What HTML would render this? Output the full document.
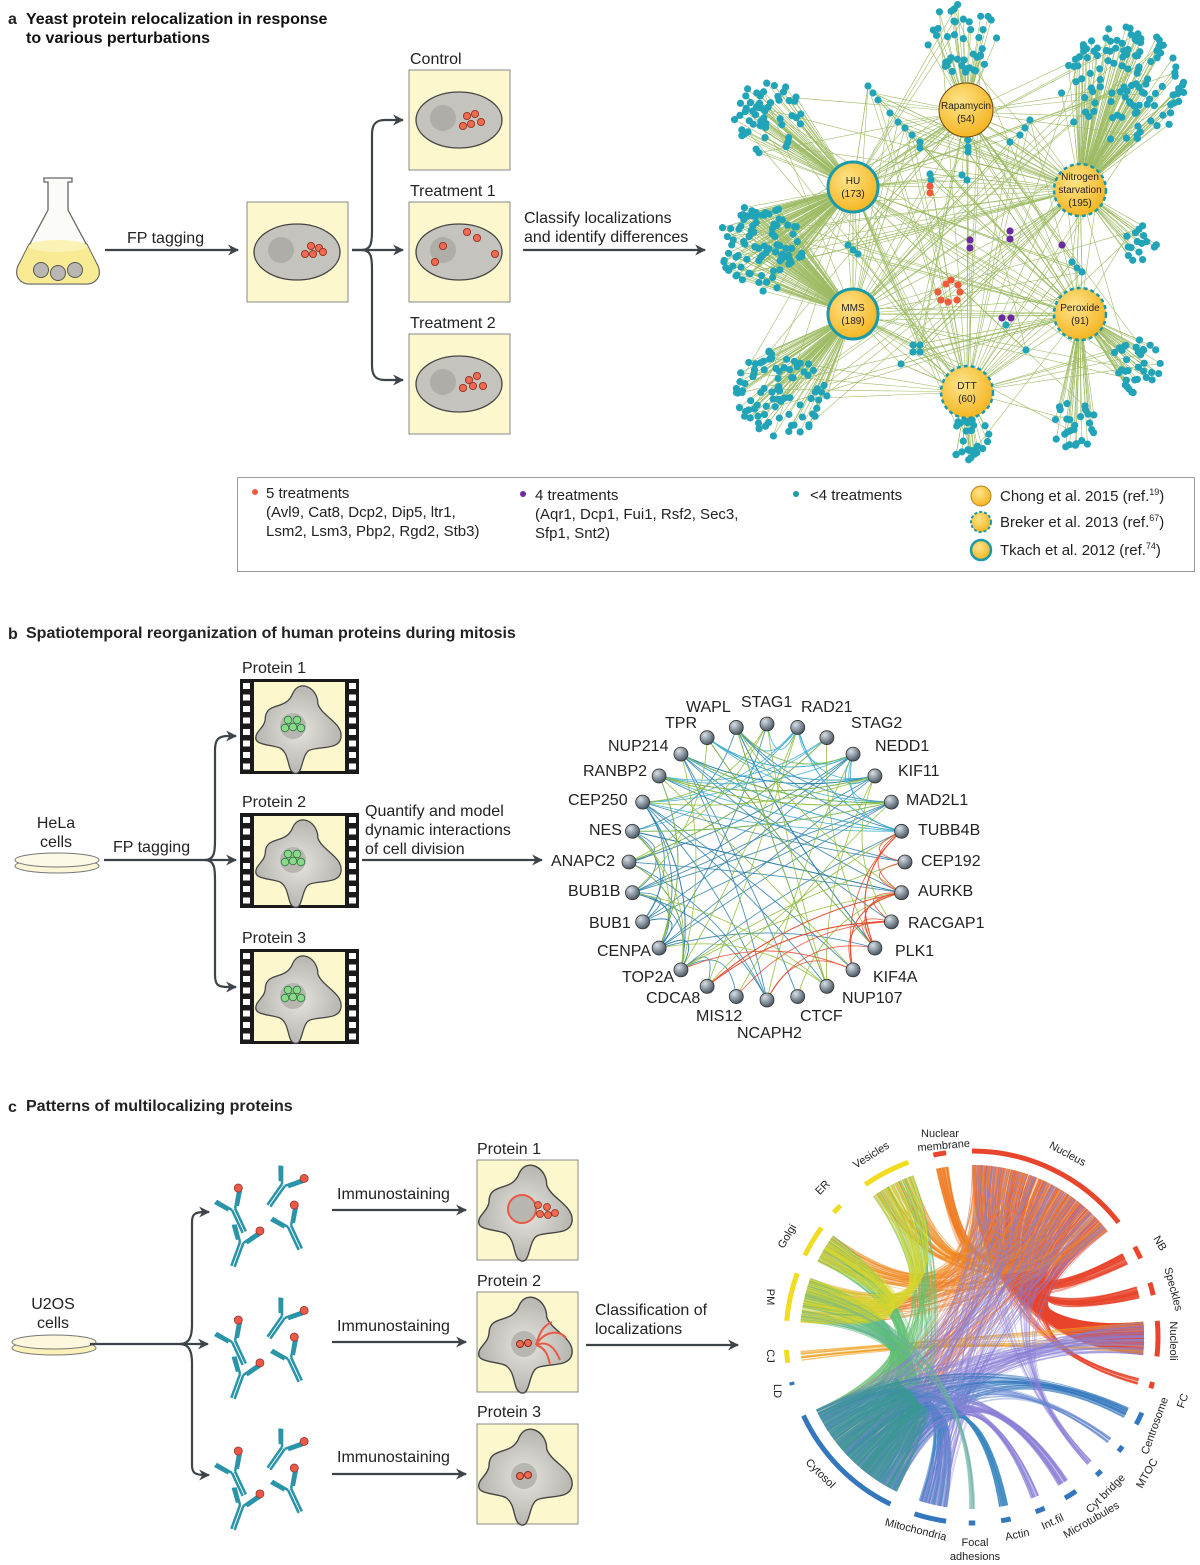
<!DOCTYPE html>
<html><head><meta charset="utf-8"><style>
html,body{margin:0;padding:0;background:#fff}
svg{display:block}
text{font-family:"Liberation Sans",sans-serif;fill:#222}
.t{font-size:16px}
.h{font-size:16px;font-weight:bold}
.s{font-size:10px}
.l{font-size:11px}
</style></head><body>
<svg id="s" width="1200" height="1565" viewBox="0 0 1200 1565" xmlns="http://www.w3.org/2000/svg">
<defs>
<marker id="ar" viewBox="0 0 10 10" refX="9" refY="5" markerWidth="5" markerHeight="5" orient="auto"><path d="M0,0 L10,5 L0,10 L3,5 Z" fill="#3c4449"/></marker>
<radialGradient id="hub" cx="0.4" cy="0.35" r="0.7"><stop offset="0" stop-color="#fde48a"/><stop offset="1" stop-color="#f5b21c"/></radialGradient>
<radialGradient id="nd" cx="0.35" cy="0.3" r="0.7"><stop offset="0" stop-color="#d8e0e6"/><stop offset="1" stop-color="#4c5a66"/></radialGradient>
<radialGradient id="cellg" cx="0.5" cy="0.5" r="0.6"><stop offset="0" stop-color="#e6e4de"/><stop offset="1" stop-color="#aeaca6"/></radialGradient>
<path id="blob" d="M-32,-8 C-30,-22 -12,-14 -6,-30 C0,-44 18,-36 18,-20 C22,-8 42,-2 40,12 C38,24 20,20 10,24 C2,28 4,48 -4,46 C-12,44 -8,28 -18,22 C-28,18 -46,20 -40,8 C-36,2 -32,0 -32,-8 Z" fill="url(#cellg)" stroke="#444" stroke-width="1.2"/>
<g id="ab"><path d="M0,0 L0,22 M3,0 L3,22 M0,0 L-9,-13 M-3,-1 L-11,-12 M3,0 L12,-13 M6,-1 L14,-12" stroke="#2a94a8" stroke-width="2.2" fill="none"/><circle cx="13" cy="-15" r="3.5" fill="#e85a45" stroke="#933" stroke-width=".7"/></g>
</defs>

<!-- PANEL A -->
<text x="8" y="24" class="h">a</text>
<text x="26" y="24" class="h" style="font-size:16px;fill:#111">Yeast protein relocalization in response</text>
<text x="26" y="43" class="h" style="font-size:16px;fill:#111">to various perturbations</text>
<g>
<path d="M44,178 L72,178 L72,182 L68,182 L68,210 L98,266 C102,276 96,284 86,284 L30,284 C20,284 14,276 18,266 L48,210 L48,182 L44,182 Z" fill="#fbfbf8" stroke="#666" stroke-width="1.3"/>
<path d="M29,244 L87,244 L98,266 C102,276 96,284 86,284 L30,284 C20,284 14,276 18,266 Z" fill="#f8eb94" stroke="#666" stroke-width="1"/>
<ellipse cx="58" cy="246" rx="29" ry="6" fill="#fbf2b5"/>
<circle cx="41" cy="270" r="7.5" fill="#b9b7b1" stroke="#555"/><circle cx="58" cy="273" r="7.5" fill="#b9b7b1" stroke="#555"/><circle cx="75" cy="270" r="7.5" fill="#b9b7b1" stroke="#555"/>
</g>
<line x1="105" y1="250" x2="238" y2="250" stroke="#3c4449" stroke-width="2.2" marker-end="url(#ar)"/>
<text x="127" y="243" class="t">FP tagging</text>
<g id="cellsA"></g>
<path d="M352,250 H362 C372,250 372,240 372,230 V135 C372,125 375,120 385,120 H403" fill="none" stroke="#3c4449" stroke-width="2.2" marker-end="url(#ar)"/>
<path d="M352,250 H403" stroke="#3c4449" stroke-width="2.2" marker-end="url(#ar)"/>
<path d="M362,250 C372,250 372,260 372,270 V365 C372,375 375,380 385,380 H403" fill="none" stroke="#3c4449" stroke-width="2.2" marker-end="url(#ar)"/>
<text x="410" y="64" class="t">Control</text>
<text x="410" y="196" class="t">Treatment 1</text>
<text x="410" y="328" class="t">Treatment 2</text>
<line x1="523" y1="250" x2="705" y2="250" stroke="#3c4449" stroke-width="2.2" marker-end="url(#ar)"/>
<text x="524" y="223" class="t">Classify localizations</text>
<text x="524" y="242" class="t">and identify differences</text>
<g id="netA"></g>
<g font-size="10">
<text x="966" y="109" text-anchor="middle" class="s">Rapamycin</text><text x="966" y="122" text-anchor="middle" class="s">(54)</text>
<text x="853" y="184" text-anchor="middle" class="s">HU</text><text x="853" y="197" text-anchor="middle" class="s">(173)</text>
<text x="1080" y="180" text-anchor="middle" class="s">Nitrogen</text><text x="1080" y="193" text-anchor="middle" class="s">starvation</text><text x="1080" y="206" text-anchor="middle" class="s">(195)</text>
<text x="853" y="311" text-anchor="middle" class="s">MMS</text><text x="853" y="324" text-anchor="middle" class="s">(189)</text>
<text x="1080" y="311" text-anchor="middle" class="s">Peroxide</text><text x="1080" y="324" text-anchor="middle" class="s">(91)</text>
<text x="967" y="389" text-anchor="middle" class="s">DTT</text><text x="967" y="402" text-anchor="middle" class="s">(60)</text>
</g>
<rect x="237.5" y="477.5" width="957" height="94" fill="#fff" stroke="#999" stroke-width="1"/>
<circle cx="255" cy="492" r="3" fill="#ef5a3a"/>
<text x="266" y="498" class="t" style="font-size:15px">5 treatments</text>
<text x="266" y="517" class="t" style="font-size:15px">(Avl9, Cat8, Dcp2, Dip5, ltr1,</text>
<text x="266" y="536" class="t" style="font-size:15px">Lsm2, Lsm3, Pbp2, Rgd2, Stb3)</text>
<circle cx="523" cy="494" r="3" fill="#6a2aa0"/>
<text x="535" y="500" class="t" style="font-size:15px">4 treatments</text>
<text x="535" y="519" class="t" style="font-size:15px">(Aqr1, Dcp1, Fui1, Rsf2, Sec3,</text>
<text x="535" y="538" class="t" style="font-size:15px">Sfp1, Snt2)</text>
<circle cx="796" cy="494" r="3" fill="#1a9aa8"/>
<text x="810" y="500" class="t" style="font-size:15px">&lt;4 treatments</text>
<circle cx="981" cy="496" r="10" fill="url(#hub)" stroke="#b5801a" stroke-width="1"/>
<circle cx="981" cy="522" r="10" fill="url(#hub)" stroke="#1a9aa8" stroke-width="2" stroke-dasharray="3 2"/>
<circle cx="981" cy="550" r="10" fill="url(#hub)" stroke="#1a9aa8" stroke-width="2.5"/>
<text x="1000" y="501" class="t" style="font-size:15px">Chong et al. 2015 (ref.<tspan font-size="9" dy="-6">19</tspan><tspan dy="6">)</tspan></text>
<text x="1000" y="527" class="t" style="font-size:15px">Breker et al. 2013 (ref.<tspan font-size="9" dy="-6">67</tspan><tspan dy="6">)</tspan></text>
<text x="1000" y="555" class="t" style="font-size:15px">Tkach et al. 2012 (ref.<tspan font-size="9" dy="-6">74</tspan><tspan dy="6">)</tspan></text>

<!-- PANEL B -->
<text x="8" y="639" class="h">b</text>
<text x="26" y="638" class="h" style="font-size:16px">Spatiotemporal reorganization of human proteins during mitosis</text>
<ellipse cx="57" cy="866" rx="42" ry="7" fill="#fbf6d8" stroke="#777"/>
<ellipse cx="57" cy="860" rx="42" ry="7" fill="#fcf9e6" stroke="#777"/>
<text x="56" y="828" class="t" text-anchor="middle">HeLa</text>
<text x="56" y="847" class="t" text-anchor="middle">cells</text>
<line x1="104" y1="860" x2="236" y2="860" stroke="#3c4449" stroke-width="2.2" marker-end="url(#ar)"/>
<text x="113" y="852" class="t">FP tagging</text>
<path d="M205,860 C215,860 215,850 215,840 V750 C215,740 218,736 228,736 H236" fill="none" stroke="#3c4449" stroke-width="2.2" marker-end="url(#ar)"/>
<path d="M205,860 C215,860 215,870 215,880 V975 C215,985 218,987 228,987 H236" fill="none" stroke="#3c4449" stroke-width="2.2" marker-end="url(#ar)"/>
<text x="242" y="673" class="t">Protein 1</text>
<text x="242" y="807" class="t">Protein 2</text>
<text x="242" y="943" class="t">Protein 3</text>
<g id="films"></g>
<line x1="362" y1="860" x2="542" y2="860" stroke="#3c4449" stroke-width="2.2" marker-end="url(#ar)"/>
<text x="365" y="816" class="t">Quantify and model</text>
<text x="365" y="835" class="t">dynamic interactions</text>
<text x="365" y="854" class="t">of cell division</text>
<g id="netB"></g>
<g class="t" font-size="16">
<text x="686" y="712" class="t">WAPL</text><text x="741" y="707" class="t">STAG1</text><text x="801" y="712" class="t">RAD21</text>
<text x="665" y="728" class="t">TPR</text><text x="851" y="728" class="t">STAG2</text>
<text x="608" y="751" class="t">NUP214</text><text x="875" y="751" class="t">NEDD1</text>
<text x="583" y="776" class="t">RANBP2</text><text x="898" y="776" class="t">KIF11</text>
<text x="568" y="805" class="t">CEP250</text><text x="906" y="805" class="t">MAD2L1</text>
<text x="589" y="835" class="t">NES</text><text x="918" y="835" class="t">TUBB4B</text>
<text x="551" y="866" class="t">ANAPC2</text><text x="921" y="866" class="t">CEP192</text>
<text x="568" y="896" class="t">BUB1B</text><text x="918" y="896" class="t">AURKB</text>
<text x="589" y="928" class="t">BUB1</text><text x="908" y="928" class="t">RACGAP1</text>
<text x="597" y="956" class="t">CENPA</text><text x="895" y="956" class="t">PLK1</text>
<text x="622" y="982" class="t">TOP2A</text><text x="873" y="982" class="t">KIF4A</text>
<text x="646" y="1003" class="t">CDCA8</text><text x="842" y="1003" class="t">NUP107</text>
<text x="696" y="1021" class="t">MIS12</text><text x="800" y="1021" class="t">CTCF</text>
<text x="737" y="1038" class="t">NCAPH2</text>
</g>

<!-- PANEL C -->
<text x="8" y="1112" class="h">c</text>
<text x="26" y="1111" class="h" style="font-size:16px">Patterns of multilocalizing proteins</text>
<ellipse cx="54" cy="1348" rx="42" ry="7" fill="#fbf0b8" stroke="#777"/>
<ellipse cx="54" cy="1342" rx="42" ry="7" fill="#fcf7dd" stroke="#777"/>
<text x="53" y="1309" class="t" text-anchor="middle">U2OS</text>
<text x="53" y="1328" class="t" text-anchor="middle">cells</text>
<line x1="90" y1="1344" x2="208" y2="1344" stroke="#3c4449" stroke-width="2.2" marker-end="url(#ar)"/>
<path d="M180,1344 C190,1344 192,1335 192,1325 V1222 C192,1214 195,1212 205,1212 H209" fill="none" stroke="#3c4449" stroke-width="2.2" marker-end="url(#ar)"/>
<path d="M180,1344 C190,1344 192,1353 192,1363 V1465 C192,1473 195,1475 205,1475 H209" fill="none" stroke="#3c4449" stroke-width="2.2" marker-end="url(#ar)"/>
<g id="abs"></g>
<text x="337" y="1199" class="t">Immunostaining</text>
<text x="337" y="1331" class="t">Immunostaining</text>
<text x="337" y="1462" class="t">Immunostaining</text>
<line x1="332" y1="1210" x2="466" y2="1210" stroke="#3c4449" stroke-width="2.2" marker-end="url(#ar)"/>
<line x1="332" y1="1342" x2="466" y2="1342" stroke="#3c4449" stroke-width="2.2" marker-end="url(#ar)"/>
<line x1="332" y1="1474" x2="466" y2="1474" stroke="#3c4449" stroke-width="2.2" marker-end="url(#ar)"/>
<text x="477" y="1154" class="t">Protein 1</text>
<text x="477" y="1286" class="t">Protein 2</text>
<text x="477" y="1417" class="t">Protein 3</text>
<g id="cellsC"></g>
<line x1="586" y1="1345" x2="738" y2="1345" stroke="#3c4449" stroke-width="2.2" marker-end="url(#ar)"/>
<text x="595" y="1315" class="t">Classification of</text>
<text x="595" y="1334" class="t">localizations</text>
<g id="chord"></g>
<g font-size="11">
<text x="940" y="1137" text-anchor="middle" class="l">Nuclear</text>
<text x="944" y="1149" text-anchor="middle" class="l" transform="rotate(-5 944 1149)">membrane</text>
<text x="1066" y="1157" class="l" transform="rotate(28 1066 1157)" text-anchor="middle">Nucleus</text>
<text x="873" y="1158" class="l" transform="rotate(-32 873 1158)" text-anchor="middle">Vesicles</text>
<text x="825" y="1190" class="l" transform="rotate(-45 825 1190)" text-anchor="middle">ER</text>
<text x="790" y="1238" class="l" transform="rotate(-60 790 1238)" text-anchor="middle">Golgi</text>
<text x="767" y="1297" class="l" transform="rotate(90 767 1297)" text-anchor="middle">PM</text>
<text x="767" y="1356" class="l" transform="rotate(90 767 1356)" text-anchor="middle">CJ</text>
<text x="774" y="1391" class="l" transform="rotate(90 774 1391)" text-anchor="middle">LD</text>
<text x="818" y="1476" class="l" transform="rotate(45 818 1476)" text-anchor="middle">Cytosol</text>
<text x="915" y="1533" class="l" transform="rotate(14 915 1533)" text-anchor="middle">Mitochondria</text>
<text x="975" y="1546" class="l" text-anchor="middle">Focal</text>
<text x="975" y="1560" class="l" text-anchor="middle">adhesions</text>
<text x="1018" y="1538" class="l" transform="rotate(-12 1018 1538)" text-anchor="middle">Actin</text>
<text x="1054" y="1525" class="l" transform="rotate(-25 1054 1525)" text-anchor="middle">Int.fil</text>
<text x="1093" y="1523" class="l" transform="rotate(-30 1093 1523)" text-anchor="middle">Microtubules</text>
<text x="1108" y="1496" class="l" transform="rotate(-45 1108 1496)" text-anchor="middle">Cyt bridge</text>
<text x="1150" y="1475" class="l" transform="rotate(-60 1150 1475)" text-anchor="middle">MTOC</text>
<text x="1158" y="1427" class="l" transform="rotate(-70 1158 1427)" text-anchor="middle">Centrosome</text>
<text x="1186" y="1402" class="l" transform="rotate(-70 1186 1402)" text-anchor="middle">FC</text>
<text x="1170" y="1341" class="l" transform="rotate(90 1170 1341)" text-anchor="middle">Nucleoli</text>
<text x="1170" y="1290" class="l" transform="rotate(75 1170 1290)" text-anchor="middle">Speckles</text>
<text x="1157" y="1245" class="l" transform="rotate(60 1157 1245)" text-anchor="middle">NB</text>
</g>
</svg>
<script>
(function(){
const NS='http://www.w3.org/2000/svg';
function el(t,a,p){const e=document.createElementNS(NS,t);for(const k in a)e.setAttribute(k,a[k]);p.appendChild(e);return e;}
let seed=7;function r(){seed=(seed*16807)%2147483647;return seed/2147483647;}
const cA=document.getElementById('cellsA');
function ybox(x,y,dots){el('rect',{x:x,y:y,width:101,height:100,fill:'#fcf7cc',stroke:'#888'},cA);
 const cx=x+50,cy=y+50;el('ellipse',{cx:cx,cy:cy,rx:43,ry:28,fill:'#c5c3bd',stroke:'#444','stroke-width':1.3},cA);
 el('circle',{cx:cx-16,cy:cy-2,r:13,fill:'#afada7'},cA);
 dots.forEach(d=>el('circle',{cx:cx+d[0],cy:cy+d[1],r:3.6,fill:'#ee6a52',stroke:'#8a2a1a','stroke-width':.8},cA));}
ybox(247,202,[[14,-6],[22,-4],[8,2],[16,2],[26,0]]);
ybox(409,70,[[8,-4],[16,-6],[22,2],[12,4],[4,6]]);
ybox(409,202,[[8,-20],[18,-14],[-16,-6],[-24,10],[36,2]]);
ybox(409,334,[[10,-4],[18,-8],[24,2],[14,2],[4,4]]);
const nA=document.getElementById('netA');
const H={R:[966,112],HU:[853,187],N:[1080,190],M:[853,314],P:[1080,314],D:[967,392]};
const gL=el('g',{stroke:'#8db04a','stroke-width':.6,opacity:.85},nA);
const gD=el('g',{fill:'#22a4b8'},nA);
const cl=[[962,38,36,42,['R']],[1122,88,62,120,['N']],[768,118,36,52,['HU']],[760,248,44,95,['HU','M']],[782,392,46,85,['M']],[1138,242,20,16,['N']],[1136,366,27,34,['P']],[966,440,24,26,['D']],[1075,425,24,26,['P']]];
cl.forEach(c=>{for(let i=0;i<c[3];i++){let a=r()*6.283,d=Math.sqrt(r())*c[2];let x=c[0]+Math.cos(a)*d,y=c[1]+Math.sin(a)*d;
 c[4].forEach(h=>el('line',{x1:H[h][0],y1:H[h][1],x2:x,y2:y},gL));
 if(r()<.25){const hs=Object.keys(H);const h=hs[Math.floor(r()*6)];el('line',{x1:H[h][0],y1:H[h][1],x2:x,y2:y},gL);}
 el('circle',{cx:x,cy:y,r:3.6},gD);}});
const mid=[[868,86],[873,93],[878,100],[890,113],[898,122],[905,128],[912,135],[920,142],[1030,120],[1025,128],[1020,135],[1010,142],[968,140],[968,147],[968,152],[920,148],[930,174],[931,180],[962,175],[967,180],[848,245],[853,250],[858,254],[1072,262],[1077,268],[1082,272],[913,345],[920,345],[913,352],[920,352],[901,364],[1026,350],[1006,325]];
const hk=Object.keys(H);
for(let i=0;i<160;i++){const a=H[hk[Math.floor(r()*6)]],b=mid[Math.floor(r()*mid.length)];el('line',{x1:a[0],y1:a[1],x2:b[0],y2:b[1]},gL);}
for(let i=0;i<40;i++){const a=H[hk[Math.floor(r()*6)]],b=H[hk[Math.floor(r()*6)]];el('line',{x1:a[0],y1:a[1],x2:b[0]+r()*40-20,y2:b[1]+r()*40-20},gL);}
mid.forEach(m=>el('circle',{cx:m[0],cy:m[1],r:3.6},gD));
[[930,186],[930,193],[946,284],[951,280],[958,285],[960,292],[957,300],[948,302],[941,300],[938,292]].forEach(m=>el('circle',{cx:m[0],cy:m[1],r:3.6,fill:'#ef5a3a'},nA));
[[970,240],[970,248],[1010,231],[1010,239],[1062,245],[1002,318],[1011,318]].forEach(m=>el('circle',{cx:m[0],cy:m[1],r:3.6,fill:'#6a2aa0'},nA));
el('circle',{cx:966,cy:110,r:27,fill:'url(#hub)',stroke:'#6a4a10','stroke-width':1},nA);
el('circle',{cx:853,cy:187,r:25,fill:'url(#hub)',stroke:'#1a9aa8','stroke-width':3},nA);
el('circle',{cx:853,cy:314,r:25,fill:'url(#hub)',stroke:'#1a9aa8','stroke-width':3},nA);
[[1080,190],[1080,314],[967,392]].forEach(p=>el('circle',{cx:p[0],cy:p[1],r:26,fill:'url(#hub)',stroke:'#1a9aa8','stroke-width':2.5,'stroke-dasharray':'4 3'},nA));
const F=document.getElementById('films');
[679,813,949].forEach(y=>{el('rect',{x:240,y:y,width:119,height:95,fill:'#1a1a1a'},F);
 for(let i=0;i<8;i++){el('rect',{x:243,y:y+4+i*11.5,width:7,height:6,fill:'#fff'},F);el('rect',{x:349,y:y+4+i*11.5,width:7,height:6,fill:'#fff'},F);}
 el('rect',{x:254,y:y+3,width:91,height:89,fill:'#fcf7cc'},F);
 el('use',{href:'#blob',transform:'translate(299 '+(y+46)+') scale(1.05)'},F);
 el('circle',{cx:293,cy:y+47,r:13,fill:'#b8b6b0'},F);
 [[-5,-6],[4,-6],[0,1],[-8,2],[8,2]].forEach(d=>el('circle',{cx:293+d[0],cy:y+47+d[1],r:3.8,fill:'#8ad88a',stroke:'#2a7a3a','stroke-width':.8},F));});
const nB=document.getElementById('netB');const C=[767,862],R=138,N=28;const P=[];
for(let i=0;i<N;i++){const a=(-90+i*360/N)*Math.PI/180;P.push([C[0]+R*Math.cos(a),C[1]+R*Math.sin(a)]);}
function cur(i,j,col){const a=P[i],b=P[j];const mx=(a[0]+b[0])/2,my=(a[1]+b[1])/2;const qx=mx+(C[0]-mx)*.35,qy=my+(C[1]-my)*.35;el('path',{d:`M${a[0]},${a[1]} Q${qx},${qy} ${b[0]},${b[1]}`,fill:'none',stroke:col,'stroke-width':.9,opacity:.85},nB);}
const left=[17,18,19,20,21,22,23,24,25,26,27];
for(let k=0;k<60;k++){const i=left[Math.floor(r()*left.length)];let j=Math.floor(r()*N);if(j!==i)cur(i,j,'#2d7fa8');}
for(let k=0;k<30;k++){const i=[1,2,3,4,5,6,25,26,24][Math.floor(r()*9)];const j=[0,1,2,3,4,5,6,23,24,25,26,27,22][Math.floor(r()*13)];if(i!==j)cur(i,j,'#3eaed0');}
for(let k=0;k<45;k++){const i=Math.floor(r()*N),j=Math.floor(r()*N);if(i!==j&&Math.abs(i-j)>3)cur(i,j,'#8fbc3a');}
for(let k=0;k<22;k++){const i=[7,8,9,10,11][Math.floor(r()*5)],j=[14,15,16,17,8,9,6][Math.floor(r()*7)];if(i!==j)cur(i,j,'#e84a30');}
P.forEach(p=>el('circle',{cx:p[0],cy:p[1],r:7,fill:'url(#nd)',stroke:'#333','stroke-width':.8},nB));
const AB=document.getElementById('abs');
[1212,1344,1475].forEach(y=>{[[232,-2,-25],[282,-28,35],[240,30,20],[288,15,-25]].forEach(q=>{el('use',{href:'#ab',transform:`translate(${q[0]} ${y+q[1]}) rotate(${q[2]}) scale(1.15)`},AB);});});
const CC=document.getElementById('cellsC');
[1160,1292,1424].forEach((y,k)=>{el('rect',{x:477,y:y,width:101,height:100,fill:'#fcf7cc',stroke:'#888'},CC);
 el('use',{href:'#blob',transform:`translate(526 ${y+48}) scale(1.15)`},CC);
 if(k==0){el('circle',{cx:522,cy:y+49,r:14,fill:'#b8b6b0',stroke:'#e85a45','stroke-width':2},CC);[[16,-4],[25,-2],[18,5],[26,6],[33,4]].forEach(d=>el('circle',{cx:522+d[0],cy:y+49+d[1],r:3.5,fill:'#ee6a52',stroke:'#8a2a1a','stroke-width':.8},CC));}
 else{el('circle',{cx:524,cy:y+52,r:13,fill:'#b8b6b0'},CC);el('circle',{cx:520,cy:y+52,r:3.5,fill:'#ee6a52',stroke:'#8a2a1a'},CC);el('circle',{cx:528,cy:y+51,r:3.5,fill:'#ee6a52',stroke:'#8a2a1a'},CC);
  if(k==1){['M536,1345 C545,1330 560,1330 566,1338','M536,1345 C548,1340 555,1348 560,1360','M536,1345 C546,1348 548,1356 550,1364','M536,1345 C540,1330 545,1325 552,1322'].forEach(d=>el('path',{d:d,fill:'none',stroke:'#e85a45','stroke-width':2},CC));}}});
const G=document.getElementById('chord');const cx=972,cy=1337;
const S={nm:[-12,-8,'#e8452c','#f07a20'],nuc:[0,52,'#e8452c','#e8452c'],nb:[61,65,'#e8452c','#e8452c'],sp:[73,77,'#e8452c','#e8452c'],nl:[85,96,'#e8452c','#e8452c'],fc:[104,106,'#e8452c','#e8452c'],ce:[114,118,'#3477bd','#3477bd'],mt:[126,128,'#3477bd','#8a7fd6'],cb:[136,138,'#3477bd','#8a7fd6'],mi:[146,150,'#3477bd','#8a7fd6'],if:[157,160,'#3477bd','#8a7fd6'],ac:[168,171,'#3477bd','#3a86c0'],fa:[179,181,'#3477bd','#3a86c0'],mito:[188,198,'#3477bd','#3a80c4'],cy:[206,245,'#3477bd','#2e9a8a'],ld:[255,256,'#3477bd','#5a9ad0'],cj:[262,266,'#f0dc20','#e6d820'],pm:[275,290,'#f0dc20','#c8d430'],go:[296,306,'#f0dc20','#e2d420'],er:[312,315,'#f0dc20','#e0d820'],ve:[325,340,'#f0dc20','#dcd818']};
function pt(a,rr){const t=a*Math.PI/180;return[cx+rr*Math.sin(t),cy-rr*Math.cos(t)];}
const gr=el('g',{fill:'none','stroke-width':.9},G);
function rib(a,b,n,col,op){n=Math.round(n*1.6);for(let i=0;i<n;i++){const x=S[a][0]+r()*(S[a][1]-S[a][0]),y=S[b][0]+r()*(S[b][1]-S[b][0]);const p=pt(x,172),q=pt(y,172);el('path',{d:`M${p[0]},${p[1]} Q${cx},${cy} ${q[0]},${q[1]}`,stroke:col||S[a][3],opacity:op||.4},gr);}}
rib('nuc','nl',160);rib('nuc','nb',50);rib('nuc','sp',50);rib('nuc','fc',20);rib('nuc','cy',40,'#e8652c');
rib('nm','nuc',40,'#f07a20');rib('ve','nuc',50,'#f08a20');rib('go','nuc',40,'#f08a20');rib('pm','nuc',40,'#f0802a');rib('cj','nl',15,'#f0a020');
rib('cy','pm',90,'#5cbf7a');rib('cy','go',40,'#60c070');rib('cy','ve',40,'#6ac070');rib('ve','pm',40,'#d8d830');rib('go','pm',40,'#d8d830');
rib('cy','nl',40,'#8a7fd6');rib('cy','nuc',40,'#8a7fd6');rib('mito','cy',60,'#3a80c4');rib('mito','nuc',25,'#8a7fd6');
rib('cy','ce',30,'#3477bd');rib('mi','cy',30,'#8a7fd6');rib('ac','cy',30,'#3a86c0');rib('if','cy',20,'#8a7fd6');rib('cb','nuc',15,'#8a7fd6');rib('mt','cy',15,'#6a8ad0');rib('fa','pm',10,'#6ab0a0');rib('cy','cy',80,'#3a9a90');
for(const k in S){const s=S[k];const a=pt(s[0],186),b=pt(s[1],186);const big=(s[1]-s[0])>180?1:0;el('path',{d:`M${a[0]},${a[1]} A186,186 0 ${big} 1 ${b[0]},${b[1]}`,fill:'none',stroke:s[2],'stroke-width':5},G);}
})();
</script>
</body></html>
